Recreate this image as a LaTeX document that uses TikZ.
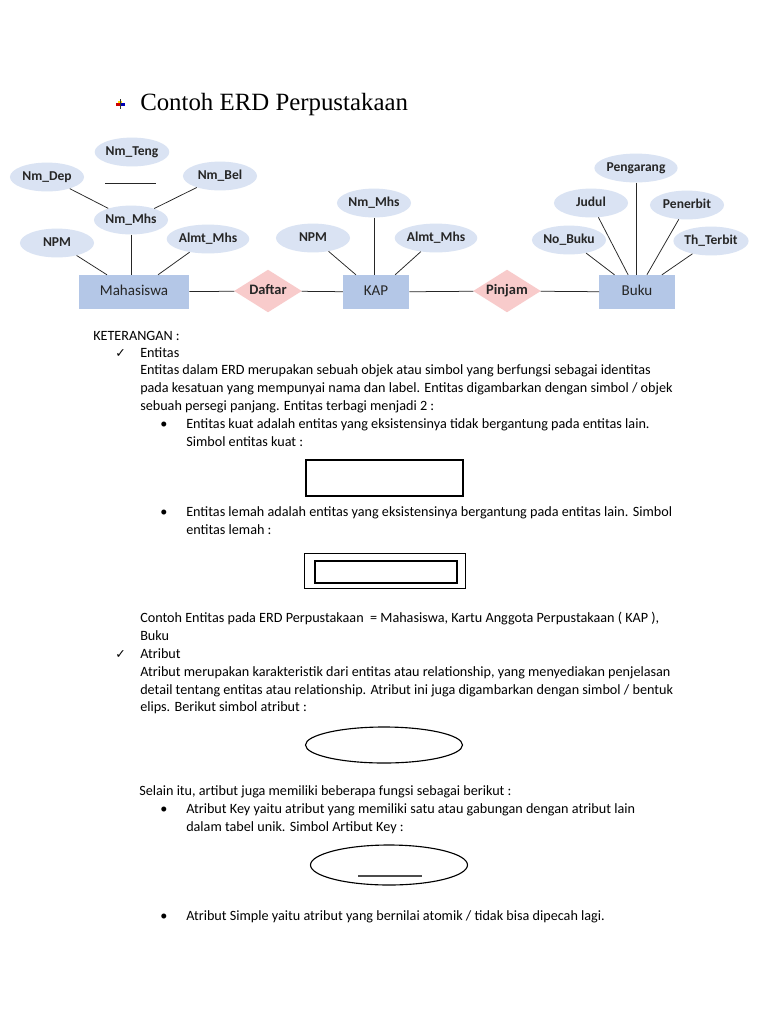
\documentclass[tikz,border=0pt]{standalone}
\usepackage{fontspec}
\setmainfont{Carlito}
\newfontfamily\titlefont{Liberation Serif}
\newfontfamily\symfont{DejaVu Sans}
\usetikzlibrary{shapes.geometric}

\definecolor{attrfill}{HTML}{DAE3F3}
\definecolor{entfill}{HTML}{B4C7E7}
\definecolor{relfill}{HTML}{F8CBCB}
\definecolor{inkgray}{HTML}{262626}

\tikzset{
  attr/.style={ellipse, fill=attrfill, minimum width=59pt, minimum height=23pt, inner sep=0pt, text height=1.5ex, text depth=0.3ex, font=\fontsize{10.8}{12}\selectfont\bfseries, text=inkgray},
  ent/.style={rectangle, fill=entfill, minimum height=27pt, inner sep=0pt, text height=1.5ex, text depth=0.3ex, font=\fontsize{12}{14}\selectfont, text=inkgray},
  rel/.style={diamond, fill=relfill, minimum width=54pt, minimum height=34pt, aspect=1.6, inner sep=0pt, text height=1.5ex, text depth=0.3ex, font=\fontsize{11.5}{13}\selectfont\bfseries, text=inkgray},
  link/.style={draw=black!85, line width=0.6pt},
  txt/.style={anchor=base west, inner sep=0pt, font=\fontsize{11.3}{13}\selectfont},
  cek/.style={anchor=base west, inner sep=0pt, font=\symfont\fontsize{10}{12}\selectfont},
  bul/.style={anchor=base west, inner sep=0pt, font=\fontsize{11.3}{13}\selectfont}
}

\begin{document}
\begin{tikzpicture}[x=0.797pt, y=-0.797pt]
        \useasboundingbox[fill=white] (0,0) rectangle (768,1024);

        % Title
        \fill[red!80!black] (116,103) rectangle (120,106);
        \fill[blue!70!black] (120,103) rectangle (125,106);
        \fill[yellow!80!orange] (118,100.5) rectangle (122,103);
        \draw[black!80, line width=0.6pt] (120,99) -- (120,109);
        \node[anchor=base west, inner sep=0pt, font=\titlefont\fontsize{19.8}{22}\selectfont] (title) at (140,110) {Contoh ERD Perpustakaan};

        % Nodes
        \node[ent, minimum width=87.7pt] (mhs) at (134,292) {Mahasiswa};
        \node[ent, minimum width=52.6pt] (kap) at (376,292) {KAP};
        \node[ent, minimum width=60pt] (buku) at (637,292) {Buku};
        \node[rel] (daftar) at (268,291) {Daftar};
        \node[rel] (pinjam) at (507,291) {Pinjam};

        \node[attr] (nmteng) at (132,152) {Nm\_Teng};
        \node[attr] (nmdep) at (47,177) {Nm\_Dep};
        \node[attr] (nmbel) at (220,176) {Nm\_Bel};
        \node[attr] (nmmhsA) at (131,220) {Nm\_Mhs};
        \node[attr] (npmA) at (57,243) {NPM};
        \node[attr] (almtA) at (208,239) {Almt\_Mhs};
        \coordinate (garisA) at (105,183);
        \coordinate (garisB) at (156,183);

        \node[attr] (nmmhsB) at (374,203) {Nm\_Mhs};
        \node[attr] (npmB) at (313,238) {NPM};
        \node[attr] (almtB) at (436,238) {Almt\_Mhs};

        \node[attr] (pengarang) at (636,168) {Pengarang};
        \node[attr] (judul) at (591,203) {Judul};
        \node[attr] (penerbit) at (687,205) {Penerbit};
        \node[attr] (nobuku) at (569,240) {No\_Buku};
        \node[attr] (thterbit) at (711,241) {Th\_Terbit};

        % Edges
        \draw[link] (mhs) -- (daftar);
        \draw[link] (daftar) -- (kap);
        \draw[link] (kap) -- (pinjam);
        \draw[link] (pinjam) -- (buku);
        \draw[link] (nmdep) -- (nmmhsA);
        \draw[link] (nmbel) -- (nmmhsA);
        \draw[link] (nmmhsA) -- (nmmhsA |- mhs.north);
        \draw[link] (npmA) -- (mhs);
        \draw[link] (almtA) -- (mhs);
        \draw[link] (garisA) -- (garisB);
        \draw[link] (nmmhsB) -- (nmmhsB |- kap.north);
        \draw[link] (npmB) -- (kap);
        \draw[link] (almtB) -- (kap);
        \draw[link] (pengarang) -- (pengarang |- buku.north);
        \draw[link] (judul) -- (buku);
        \draw[link] (penerbit) -- (buku);
        \draw[link] (nobuku) -- (buku);
        \draw[link] (thterbit) -- (buku);

        % Keterangan
        \node[txt] (ket) at (93,340) {KETERANGAN :};
        \node[cek] (cekA) at (115,357) {✓};
        \node[txt] (entA) at (140,357) {Entitas};
        \node[txt] (entB) at (140,374) {Entitas dalam ERD merupakan sebuah objek atau simbol yang berfungsi sebagai identitas};
        \node[txt] (entC) at (140,392) {pada kesatuan yang mempunyai nama dan label. Entitas digambarkan dengan simbol / objek};
        \node[txt] (entD) at (140,410) {sebuah persegi panjang. Entitas terbagi menjadi 2 :};
        \node[bul] (bulA) at (160,428) {•};
        \node[txt] (kuatA) at (186,428) {Entitas kuat adalah entitas yang eksistensinya tidak bergantung pada entitas lain.};
        \node[txt] (kuatB) at (186,446) {Simbol entitas kuat :};
        \draw[black, line width=0.9pt] (306,460) rectangle (463,496);
        \node[bul] (bulB) at (160,516) {•};
        \node[txt] (lemahA) at (186,516) {Entitas lemah adalah entitas yang eksistensinya bergantung pada entitas lain. Simbol};
        \node[txt] (lemahB) at (186,534) {entitas lemah :};
        \draw[black, line width=0.8pt] (304,553) rectangle (465,588);
        \draw[black, line width=1.4pt] (315,561) rectangle (457,583);
        \node[txt] (contohA) at (140,622) {Contoh Entitas pada ERD Perpustakaan\ \ = Mahasiswa, Kartu Anggota Perpustakaan ( KAP ),};
        \node[txt] (contohB) at (140,640) {Buku};
        \node[cek] (cekB) at (115,658) {✓};
        \node[txt] (atrA) at (140,658) {Atribut};
        \node[txt] (atrB) at (140,676) {Atribut merupakan karakteristik dari entitas atau relationship, yang menyediakan penjelasan};
        \node[txt] (atrC) at (140,694) {detail tentang entitas atau relationship. Atribut ini juga digambarkan dengan simbol / bentuk};
        \node[txt] (atrD) at (140,711) {elips. Berikut simbol atribut :};
        \draw[black, line width=0.9pt] (384,745) ellipse (78.5 and 18);
        \node[txt] (selain) at (139,795) {Selain itu, artibut juga memiliki beberapa fungsi sebagai berikut :};
        \node[bul] (bulC) at (160,813) {•};
        \node[txt] (keyA) at (186,813) {Atribut Key yaitu atribut yang memiliki satu atau gabungan dengan atribut lain};
        \node[txt] (keyB) at (186,831) {dalam tabel unik. Simbol Artibut Key :};
        \draw[black, line width=0.9pt] (389,865) ellipse (78.5 and 20);
        \draw[black!70, line width=1pt] (358,876) -- (422,876);
        \node[bul] (bulD) at (160,920) {•};
        \node[txt] (simple) at (186,920) {Atribut Simple yaitu atribut yang bernilai atomik / tidak bisa dipecah lagi.};
\end{tikzpicture}
\end{document}
